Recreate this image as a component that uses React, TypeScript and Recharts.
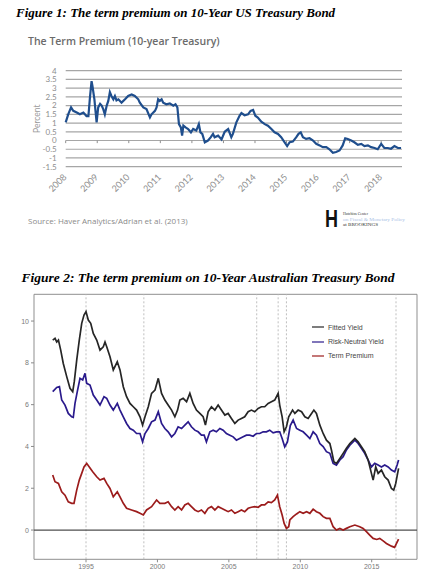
import React from 'react';
import {
  LineChart,
  Line,
  XAxis,
  YAxis,
  CartesianGrid,
  ReferenceLine,
  ReferenceArea,
  Legend,
} from 'recharts';

// ---------- Figure 1: US 10-year term premium ----------
const usYears = [
  2008.0, 2008.08, 2008.17, 2008.24, 2008.35, 2008.45, 2008.56, 2008.66, 2008.72, 2008.77,
  2008.82, 2008.85, 2008.91, 2008.95, 2008.98, 2009.03, 2009.09, 2009.14, 2009.19, 2009.24,
  2009.3, 2009.35, 2009.4, 2009.45, 2009.51, 2009.56, 2009.61, 2009.67, 2009.77, 2009.88,
  2009.98, 2010.09, 2010.19, 2010.3, 2010.35, 2010.46, 2010.56, 2010.67, 2010.72, 2010.83,
  2010.88, 2010.93, 2010.98, 2011.04, 2011.09, 2011.19, 2011.3, 2011.41, 2011.48, 2011.54,
  2011.59, 2011.65, 2011.69, 2011.73, 2011.8, 2011.88, 2011.97, 2012.04, 2012.14, 2012.22,
  2012.27, 2012.33, 2012.41, 2012.51, 2012.6, 2012.67, 2012.72, 2012.83, 2012.94, 2013.04,
  2013.15, 2013.25, 2013.3, 2013.41, 2013.51, 2013.57, 2013.67, 2013.78, 2013.86, 2013.94,
  2014.01, 2014.09, 2014.2, 2014.31, 2014.41, 2014.52, 2014.62, 2014.73, 2014.83, 2014.94,
  2015.02, 2015.1, 2015.2, 2015.31, 2015.38, 2015.45, 2015.52, 2015.62, 2015.73, 2015.84,
  2015.94, 2016.05, 2016.15, 2016.26, 2016.36, 2016.47, 2016.57, 2016.68, 2016.78, 2016.86,
  2016.94, 2017.05, 2017.15, 2017.26, 2017.37, 2017.47, 2017.58, 2017.68, 2017.79, 2017.89,
  2018.0, 2018.1, 2018.21, 2018.31, 2018.42, 2018.53, 2018.63,
];
const usPremium = [
  1.04, 1.5, 1.9, 1.7, 1.6, 1.5, 1.6, 1.4, 1.4, 2.5,
  3.4, 3.1, 2.36, 1.6, 1.04, 1.9, 2.1, 2.0, 1.8, 1.5,
  2.0, 2.27, 2.77, 2.55, 2.36, 2.55, 2.3, 2.36, 2.17, 2.36,
  2.55, 2.64, 2.55, 2.36, 2.17, 1.9, 1.8, 1.32, 1.5, 1.7,
  1.9, 2.36, 2.27, 2.36, 2.17, 2.08, 2.13, 2.0, 2.08, 1.9,
  0.94, 0.75, 0.28, 0.85, 0.75, 0.66, 0.47, 0.66, 0.57, 0.94,
  0.47, 0.38, -0.1, 0, 0.19, 0.38, 0.19, 0.28, 0.06, 0.5,
  0.66, 0.19, 0.38, 1.04, 1.42, 1.57, 1.45, 1.5, 1.7, 1.75,
  1.42, 1.32, 1.08, 0.94, 0.85, 0.66, 0.47, 0.38, 0.19, -0.1,
  -0.32, -0.1, -0.06, 0.19, 0.38, 0.47, 0.19, 0.09, 0.13, 0,
  -0.19, -0.28, -0.38, -0.38, -0.5, -0.7, -0.66, -0.57, -0.28, 0.13,
  0.09, 0, -0.1, -0.25, -0.19, -0.32, -0.28, -0.38, -0.43, -0.5,
  -0.19, -0.43, -0.43, -0.47, -0.32, -0.43, -0.43,
];
const usYearTicks = [2008, 2009, 2010, 2011, 2012, 2013, 2014, 2015, 2016, 2017, 2018];
const usYearRange = [2008, 2018.66];
const usValueTicks = [-1.5, -1, -0.5, 0, 0.5, 1, 1.5, 2, 2.5, 3, 3.5, 4];

// ---------- Figure 2: Australian 10-year bond ----------
const auFitted: [number, number][] = [
  [1992.67, 9.09], [1992.83, 9.17], [1992.95, 9.0], [1993.07, 9.09], [1993.23, 8.61],
  [1993.41, 7.97], [1993.65, 7.34], [1993.88, 6.78], [1994.07, 6.62], [1994.18, 7.1],
  [1994.35, 8.13], [1994.53, 9.09], [1994.7, 9.89], [1994.86, 10.29], [1995.0, 10.45],
  [1995.16, 10.05], [1995.33, 9.89], [1995.51, 9.41], [1995.75, 9.09], [1995.98, 8.61],
  [1996.21, 8.77], [1996.33, 9.0], [1996.45, 8.77], [1996.68, 8.29], [1996.91, 7.66],
  [1997.19, 8.05], [1997.38, 7.66], [1997.61, 6.86], [1997.84, 6.38], [1998.08, 6.06],
  [1998.31, 5.9], [1998.54, 5.74], [1998.78, 5.42], [1998.96, 5.02], [1999.13, 5.42],
  [1999.36, 5.9], [1999.59, 6.54], [1999.83, 6.7], [2000.06, 7.26], [2000.29, 6.54],
  [2000.52, 6.22], [2000.75, 5.98], [2000.99, 5.74], [2001.22, 5.42], [2001.41, 5.74],
  [2001.57, 6.22], [2001.8, 6.3], [2002.04, 6.14], [2002.27, 6.54], [2002.5, 6.06],
  [2002.73, 5.74], [2002.97, 5.58], [2003.2, 5.42], [2003.36, 5.02], [2003.55, 5.66],
  [2003.78, 5.9], [2004.02, 5.74], [2004.25, 5.98], [2004.48, 5.74], [2004.72, 5.5],
  [2004.95, 5.58], [2005.18, 5.34], [2005.42, 5.1], [2005.65, 5.26], [2005.88, 5.34],
  [2006.11, 5.42], [2006.35, 5.66], [2006.58, 5.74], [2006.81, 5.66], [2007.05, 5.82],
  [2007.28, 5.9], [2007.51, 5.9], [2007.75, 6.06], [2007.98, 6.14], [2008.21, 6.22],
  [2008.45, 6.54], [2008.56, 5.98], [2008.73, 5.42], [2008.87, 4.7], [2009.03, 4.94],
  [2009.19, 5.42], [2009.46, 5.74], [2009.62, 5.58], [2009.85, 5.74], [2010.09, 5.66],
  [2010.32, 5.42], [2010.55, 5.34], [2010.79, 5.58], [2010.95, 5.74], [2011.13, 5.58],
  [2011.37, 5.02], [2011.6, 4.62], [2011.83, 4.3], [2012.07, 4.14], [2012.18, 3.83],
  [2012.35, 3.27], [2012.53, 3.19], [2012.77, 3.43], [2013.0, 3.67], [2013.23, 3.91],
  [2013.47, 4.14], [2013.82, 4.38], [2014.05, 4.22], [2014.28, 3.99], [2014.51, 3.75],
  [2014.75, 3.35], [2014.98, 2.71], [2015.1, 2.39], [2015.28, 3.02], [2015.45, 2.71],
  [2015.68, 2.87], [2015.91, 2.55], [2016.15, 2.39], [2016.38, 1.99], [2016.54, 1.91],
  [2016.68, 2.23], [2016.88, 2.95],
];
const auRiskNeutral: [number, number][] = [
  [1992.67, 6.62], [1992.95, 6.82], [1993.14, 6.86], [1993.3, 6.22], [1993.53, 5.98],
  [1993.76, 5.58], [1994.0, 5.42], [1994.11, 5.39], [1994.23, 6.06], [1994.39, 6.62],
  [1994.58, 7.26], [1994.77, 7.18], [1994.93, 7.5], [1995.05, 7.02], [1995.28, 6.94],
  [1995.51, 6.46], [1995.75, 6.22], [1995.98, 5.98], [1996.26, 6.38], [1996.45, 6.3],
  [1996.68, 5.98], [1996.91, 5.74], [1997.19, 6.06], [1997.38, 5.74], [1997.61, 5.42],
  [1997.84, 5.1], [1998.08, 4.86], [1998.31, 4.78], [1998.54, 4.62], [1998.78, 4.62],
  [1998.96, 4.22], [1999.13, 4.62], [1999.36, 4.86], [1999.59, 5.18], [1999.83, 5.26],
  [2000.06, 5.66], [2000.29, 5.1], [2000.52, 4.86], [2000.75, 4.7], [2000.99, 4.46],
  [2001.22, 4.62], [2001.45, 4.94], [2001.69, 4.86], [2001.92, 5.02], [2002.15, 5.18],
  [2002.38, 4.94], [2002.62, 4.78], [2002.85, 4.7], [2003.08, 4.54], [2003.27, 4.54],
  [2003.43, 4.22], [2003.67, 4.7], [2003.9, 4.78], [2004.13, 4.7], [2004.37, 4.86],
  [2004.6, 4.78], [2004.83, 4.62], [2005.07, 4.54], [2005.3, 4.46], [2005.53, 4.3],
  [2005.76, 4.38], [2006.0, 4.46], [2006.23, 4.54], [2006.46, 4.54], [2006.7, 4.49],
  [2006.93, 4.62], [2007.16, 4.62], [2007.4, 4.7], [2007.63, 4.7], [2007.86, 4.78],
  [2008.1, 4.65], [2008.33, 4.7], [2008.56, 4.7], [2008.73, 4.38], [2008.91, 3.98],
  [2009.1, 4.22], [2009.3, 5.0], [2009.5, 5.26], [2009.74, 4.86], [2009.97, 4.78],
  [2010.2, 4.7], [2010.44, 4.54], [2010.67, 4.38], [2010.9, 4.7], [2011.13, 4.54],
  [2011.37, 4.14], [2011.6, 3.99], [2011.83, 3.75], [2012.07, 3.67], [2012.3, 3.19],
  [2012.53, 3.11], [2012.77, 3.35], [2013.0, 3.51], [2013.23, 3.83], [2013.47, 4.06],
  [2013.82, 4.3], [2014.05, 4.14], [2014.28, 3.91], [2014.51, 3.67], [2014.75, 3.35],
  [2014.98, 3.02], [2015.21, 3.19], [2015.45, 3.11], [2015.68, 3.02], [2015.91, 3.11],
  [2016.15, 3.02], [2016.38, 2.87], [2016.61, 2.79], [2016.78, 3.11], [2016.88, 3.35],
];
const auTermPremium: [number, number][] = [
  [1992.67, 2.63], [1992.83, 2.31], [1993.07, 2.23], [1993.3, 1.83], [1993.53, 1.67],
  [1993.76, 1.35], [1994.0, 1.28], [1994.16, 1.28], [1994.35, 1.91], [1994.53, 2.39],
  [1994.7, 2.71], [1994.86, 3.02], [1995.05, 3.19], [1995.23, 3.02], [1995.47, 2.79],
  [1995.75, 2.55], [1995.98, 2.39], [1996.26, 2.47], [1996.45, 2.23], [1996.68, 1.99],
  [1996.91, 1.59], [1997.19, 1.83], [1997.38, 1.59], [1997.61, 1.28], [1997.84, 1.04],
  [1998.19, 0.96], [1998.54, 0.88], [1998.78, 0.8], [1999.01, 0.72], [1999.24, 0.96],
  [1999.59, 1.12], [1999.94, 1.44], [2000.17, 1.28], [2000.52, 1.28], [2000.75, 1.35],
  [2000.99, 1.12], [2001.22, 0.96], [2001.45, 1.12], [2001.69, 0.96], [2001.92, 1.2],
  [2002.15, 1.28], [2002.38, 1.12], [2002.62, 0.96], [2002.85, 0.88], [2003.08, 0.96],
  [2003.32, 0.8], [2003.55, 1.04], [2003.78, 1.12], [2004.02, 0.96], [2004.25, 1.12],
  [2004.48, 1.04], [2004.72, 0.96], [2004.95, 0.88], [2005.18, 0.96], [2005.42, 0.8],
  [2005.65, 0.88], [2005.88, 0.96], [2006.11, 0.88], [2006.35, 1.04], [2006.58, 1.09],
  [2006.81, 1.12], [2007.05, 1.09], [2007.28, 1.2], [2007.51, 1.2], [2007.75, 1.35],
  [2007.98, 1.31], [2008.21, 1.44], [2008.4, 1.67], [2008.56, 1.12], [2008.73, 0.72],
  [2008.87, 0.32], [2009.03, 0.08], [2009.19, 0.16], [2009.27, 0.48], [2009.5, 0.64],
  [2009.74, 0.77], [2009.97, 0.88], [2010.2, 0.8], [2010.44, 0.88], [2010.67, 0.8],
  [2010.9, 1.0], [2011.13, 0.88], [2011.37, 0.8], [2011.6, 0.64], [2011.83, 0.56],
  [2012.07, 0.56], [2012.3, 0.16], [2012.53, 0.0], [2012.77, 0.08], [2013.0, 0.0],
  [2013.23, 0.08], [2013.47, 0.16], [2013.82, 0.24], [2014.16, 0.16], [2014.4, 0.08],
  [2014.63, -0.08], [2014.86, -0.24], [2015.1, -0.4], [2015.35, -0.45], [2015.56, -0.4],
  [2015.8, -0.52], [2016.03, -0.64], [2016.38, -0.77], [2016.6, -0.83], [2016.88, -0.43],
];
const auYearTicks = [1995, 2000, 2005, 2010, 2015];
const auYearRange = [1991.36, 2018.17];
const auValueTicks = [0, 2, 4, 6, 8, 10];
const auValueRange = [-1.4, 11.28];
const auEventYears = [1995.0, 1999.05, 2006.95, 2008.45, 2009.03, 2016.7];

const usRows = usYears.map((t, i) => ({ t, v: usPremium[i] }));
const toRows = (pairs: [number, number][]) => pairs.map(([t, v]) => ({ t, v }));

const SANS1 = 'Lato, "Open Sans", sans-serif';
const SANS1W = '"Open Sans", Lato, sans-serif';
const SANS2 = '"Liberation Sans", Arial, sans-serif';
const SERIF = '"Liberation Serif", "Times New Roman", serif';

const YearTick = (props: any) => {
  const { x, y, payload } = props;
  const px = x + 1.5;
  const py = y + 11;
  return (
    <text
      x={px}
      y={py}
      transform={`rotate(-45 ${px} ${py})`}
      textAnchor="end"
      fill="#8e8e8e"
      fontSize={9}
      fontFamily={SANS1}
    >
      {payload.value}
    </text>
  );
};

const PercentLabel = (props: any) => {
  const vb = props.viewBox || { x: 35.7, y: 70.7, width: 30, height: 96 };
  const lx = vb.x + 4.3;
  const ly = vb.y + vb.height / 2;
  return (
    <text
      x={lx}
      y={ly}
      transform={`rotate(-90 ${lx} ${ly})`}
      textAnchor="middle"
      fill="#9a9a9a"
      fontSize={8.5}
      fontFamily={SANS1}
    >
      Percent
    </text>
  );
};

const AuLegend = (props: any) => {
  const payload = props.payload || [];
  return (
    <div style={{ fontFamily: SANS2, fontSize: 7, color: '#444' }}>
      {payload.map((e: any) => (
        <div key={e.value} style={{ display: 'flex', alignItems: 'center', height: 14.4 }}>
          <svg width={12} height={4} style={{ marginRight: 4 }}>
            <line x1={0} y1={2} x2={12} y2={2} stroke={e.color} strokeWidth={1.2} />
          </svg>
          <span>{e.value}</span>
        </div>
      ))}
    </div>
  );
};

export default function App() {
  return (
    <div style={{ position: 'absolute', left: 0, top: 0, width: 440, height: 584, background: '#fff' }}>
      {/* Figure 1 title */}
      <div
        style={{
          position: 'absolute', left: 16, top: 5, fontFamily: SERIF, fontWeight: 'bold',
          fontStyle: 'italic', fontSize: 13, lineHeight: '16px', color: '#000', whiteSpace: 'nowrap',
        }}
      >
        Figure 1: The term premium on 10-Year US Treasury Bond
      </div>
      <div
        style={{
          position: 'absolute', left: 28, top: 35, fontFamily: SANS1W, fontWeight: 600,
          fontSize: 10.5, lineHeight: '13px', color: '#6b6b6b', whiteSpace: 'nowrap',
        }}
      >
        The Term Premium (10-year Treasury)
      </div>

      <div style={{ position: 'absolute', left: 0, top: 0, width: 440, height: 200 }}>
        <LineChart
          width={440}
          height={200}
          data={usRows}
          margin={{ top: 70.7, right: 38, bottom: 3.3, left: 35.7 }}
        >
          <CartesianGrid vertical={false} stroke="#a6a6a6" strokeWidth={1.2} />
          <XAxis
            dataKey="t"
            type="number"
            domain={usYearRange}
            ticks={usYearTicks}
            interval={0}
            axisLine={false}
            tickLine={false}
            tickSize={0}
            tickMargin={0}
            height={30}
            tick={(p: any) => <YearTick {...p} />}
          />
          <YAxis
            type="number"
            domain={[usValueTicks[0], usValueTicks[usValueTicks.length - 1]]}
            ticks={usValueTicks}
            interval={0}
            axisLine={false}
            tickLine={false}
            tickSize={0}
            tickMargin={9}
            width={30}
            tick={{ fill: '#8e8e8e', fontSize: 8, fontFamily: SANS1 }}
            label={{ content: (p: any) => <PercentLabel {...p} /> }}
          />
          {usYearTicks.map((yr) => (
            <ReferenceLine
              key={yr}
              segment={[{ x: yr, y: 0 }, { x: yr, y: -0.15 }]}
              stroke="#8e8e8e"
              strokeWidth={1}
            />
          ))}
          <Line
            type="linear"
            dataKey="v"
            stroke="#1f4e8d"
            strokeWidth={2.2}
            dot={false}
            isAnimationActive={false}
          />
        </LineChart>
      </div>

      <div
        style={{
          position: 'absolute', left: 28, top: 214.5, fontFamily: SANS1W, fontSize: 8,
          lineHeight: '11px', color: '#8a8a8a', whiteSpace: 'nowrap',
        }}
      >
        Source: Haver Analytics/Adrian et al. (2013)
      </div>
      <svg style={{ position: 'absolute', left: 320, top: 205 }} width={110} height={28}>
        <text x={5} y={22} fontFamily={SANS2} fontWeight="bold" fontSize={23} fill="#111" textLength={13} lengthAdjust="spacingAndGlyphs">
          H
        </text>
        <text x={23} y={10} fontFamily={SERIF} fontSize={5} fill="#333" textLength={25} lengthAdjust="spacingAndGlyphs">
          Hutchins Center
        </text>
        <text x={23} y={15.5} fontFamily={SERIF} fontSize={5} fill="#a9c1e6" textLength={62} lengthAdjust="spacingAndGlyphs">
          on Fiscal &amp; Monetary Policy
        </text>
        <text x={23} y={21} fontFamily={SERIF} fontSize={4} fill="#333" textLength={35} lengthAdjust="spacingAndGlyphs">
          at BROOKINGS
        </text>
      </svg>

      {/* Figure 2 title */}
      <div
        style={{
          position: 'absolute', left: 21.5, top: 269.5, fontFamily: SERIF, fontWeight: 'bold',
          fontStyle: 'italic', fontSize: 13.5, lineHeight: '16px', color: '#000', whiteSpace: 'nowrap',
        }}
      >
        Figure 2: The term premium on 10-Year Australian Treasury Bond
      </div>

      <div style={{ position: 'absolute', left: 0, top: 285, width: 440, height: 299 }}>
        <LineChart width={440} height={299} margin={{ top: 9.3, right: 23, bottom: 4.7, left: 14 }}>
          <XAxis
            dataKey="t"
            type="number"
            domain={auYearRange}
            allowDataOverflow
            ticks={auYearTicks}
            interval={0}
            axisLine={false}
            tickLine={{ stroke: '#8a8a8a' }}
            tickSize={3}
            tickMargin={2}
            height={20}
            tick={{ fill: '#7a7a7a', fontSize: 7, fontFamily: SANS2 }}
          />
          <YAxis
            type="number"
            domain={auValueRange}
            allowDataOverflow
            ticks={auValueTicks}
            interval={0}
            axisLine={false}
            tickLine={{ stroke: '#8a8a8a' }}
            tickSize={3}
            tickMargin={2}
            width={20}
            tick={{ fill: '#7a7a7a', fontSize: 7, fontFamily: SANS2 }}
          />
          <ReferenceArea
            x1={auYearRange[0]}
            x2={auYearRange[1]}
            y1={auValueRange[0]}
            y2={auValueRange[1]}
            fill="none"
            fillOpacity={0}
            stroke="#8f8f8f"
            strokeWidth={1}
          />
          {auEventYears.map((yr) => (
            <ReferenceLine key={yr} x={yr} stroke="#b8b8b8" strokeWidth={0.9} strokeDasharray="2 2" />
          ))}
          <ReferenceLine y={0} stroke="#4f4f4f" strokeWidth={1.2} />
          <Line
            data={toRows(auRiskNeutral)}
            name="Risk-Neutral Yield"
            type="linear"
            dataKey="v"
            stroke="#2a1a8c"
            strokeWidth={1.7}
            dot={false}
            isAnimationActive={false}
          />
          <Line
            data={toRows(auFitted)}
            name="Fitted Yield"
            type="linear"
            dataKey="v"
            stroke="#262626"
            strokeWidth={1.7}
            dot={false}
            isAnimationActive={false}
          />
          <Line
            data={toRows(auTermPremium)}
            name="Term Premium"
            type="linear"
            dataKey="v"
            stroke="#9c1c1c"
            strokeWidth={1.7}
            dot={false}
            isAnimationActive={false}
          />
          <Legend
            layout="vertical"
            align="center"
            verticalAlign="middle"
            wrapperStyle={{ position: 'absolute', left: 312, top: 35, width: 110 }}
            payload={[
              { value: 'Fitted Yield', type: 'line', color: '#555555' },
              { value: 'Risk-Neutral Yield', type: 'line', color: '#4a4590' },
              { value: 'Term Premium', type: 'line', color: '#c8383c' },
            ] as any}
            content={(p: any) => <AuLegend {...p} />}
          />
        </LineChart>
      </div>
    </div>
  );
}
